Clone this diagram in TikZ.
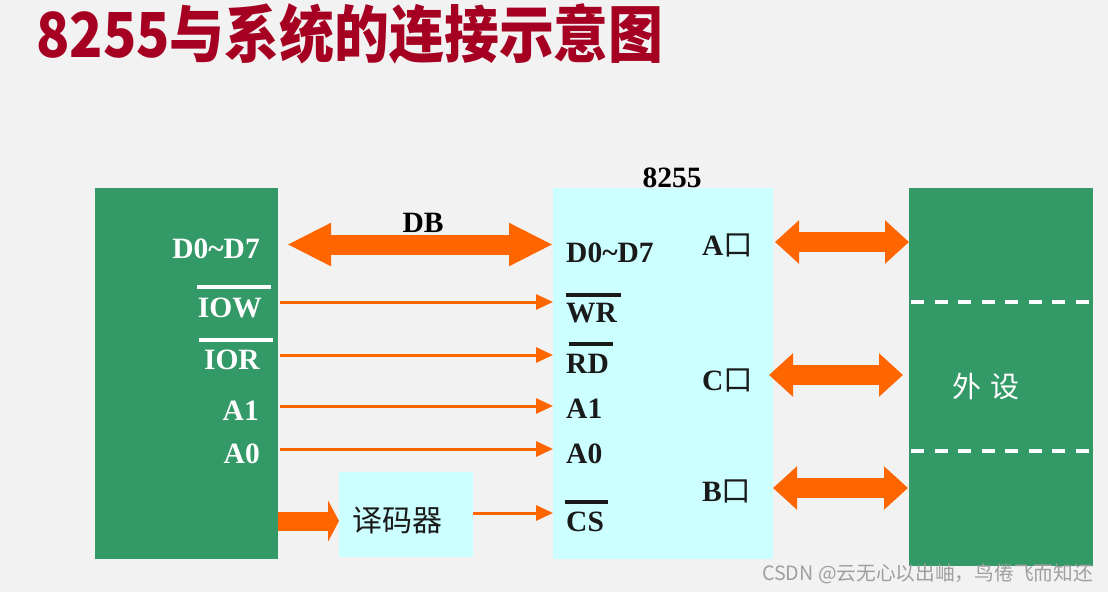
\documentclass[tikz,border=0pt]{standalone}
\usepackage{fontspec}
\setmainfont{Liberation Serif}
\newfontfamily\cjk{Noto Sans CJK SC}
\usetikzlibrary{arrows.meta}

\definecolor{pagegray}{HTML}{F2F2F2}
\definecolor{boxgreen}{HTML}{339966}
\definecolor{boxcyan}{HTML}{CCFFFF}
\definecolor{titlered}{HTML}{A50021}
\definecolor{busorange}{HTML}{FF6600}
\definecolor{inkdark}{HTML}{1A1A1A}

\begin{document}
\begin{tikzpicture}[x=1pt, y=-1pt,
  box/.style = {anchor=north west, inner sep=0pt, outer sep=0pt, minimum width=#1},
  sig/.style = {font=\fontsize{29.5}{29.5}\selectfont\bfseries, inner sep=0pt, text=#1},
  sig/.default = inkdark,
  cjklabel/.style = {font=\fontsize{#1}{#1}\selectfont\cjk, inner sep=0pt},
  thinline/.style = {draw=busorange, line width=3pt, -{Triangle[length=17pt,width=15pt]}},
  busline/.style = {draw=busorange, line width=20pt, {Triangle[length=24pt,width=42pt]}-{Triangle[length=24pt,width=42pt]}}]

\useasboundingbox (0,0) rectangle (1108,592);
\fill[pagegray] (0,0) rectangle (1108,592);

% Title
\node[anchor=base west, inner sep=0pt, text=titlered, xscale=.885, transform shape, font=\fontsize{62}{62}\selectfont\cjk\bfseries] (title) at (36,57) {8255与系统的连接示意图};

% Boxes
\node[box=183pt, minimum height=371pt, fill=boxgreen] (host) at (95,188) {};
\node[box=220pt, minimum height=371pt, fill=boxcyan] (chip) at (553,188) {};
\node[box=184pt, minimum height=378pt, fill=boxgreen] (periph) at (909,188) {};
\node[box=134pt, minimum height=85pt, fill=boxcyan] (decoder) at (339,472) {};

% Host labels
\node[sig=white, anchor=base east] (hostd) at (260,258) {D0\textasciitilde D7};
\node[sig=white, anchor=base east] (hostiow) at (262,317) {IOW};
\node[sig=white, anchor=base east] (hostior) at (260,369) {IOR};
\node[sig=white, anchor=base east] (hosta1) at (259,420) {A1};
\node[sig=white, anchor=base east] (hosta0) at (260,463) {A0};

% Chip labels
\node[sig, anchor=base, text=black] (chipname) at (672,187) {8255};
\node[sig, anchor=base, text=black] (dbname) at (423,232) {DB};
\node[sig, anchor=base west] (chipd) at (566,262) {D0\textasciitilde D7};
\node[sig, anchor=base west] (chipwr) at (566,322) {WR};
\node[sig, anchor=base west] (chiprd) at (566,373) {RD};
\node[sig, anchor=base west] (chipa1) at (566,418) {A1};
\node[sig, anchor=base west] (chipa0) at (566,463) {A0};
\node[sig, anchor=base west] (chipcs) at (566,531) {CS};
\node[sig, anchor=base west] (porta) at (702,255) {A{\cjk\mdseries 口}};
\node[sig, anchor=base west] (portc) at (702,390) {C{\cjk\mdseries 口}};
\node[sig, anchor=base west] (portb) at (702,501) {B{\cjk\mdseries 口}};

% Other labels
\node[cjklabel=30, anchor=base west, text=inkdark] (decname) at (352,531) {译码器};
\node[cjklabel=29, anchor=base west, text=white] (periphname) at (952,397) {外\,\,设};
\node[cjklabel=19.7, anchor=base east, text=gray!75] (mark) at (1093,580) {CSDN @云无心以出岫，鸟倦飞而知还};

% Bars over the active low signals
\foreach \xa/\xb/\y in {197/271/287, 199/273/340} {
  \draw[white, line width=3.5pt] (\xa,\y) -- (\xb,\y);
}
\foreach \xa/\xb/\y in {566/621/295, 569/613/344, 565/608/502} {
  \draw[inkdark, line width=3.5pt] (\xa,\y) -- (\xb,\y);
}

% Dashes
\foreach \y in {302,451} {
  \draw[white, line width=3.5pt, dash pattern=on 13pt off 10.5pt] (periph.west |- 0,\y) ++(2,0) -- (1090,\y);
}

% Signal lines
\foreach \y in {302,355,406,449} {
  \draw[thinline] ([xshift=2pt]host.east |- 0,\y) -- (chip.west |- 0,\y);
}
\draw[thinline] (decoder.east |- 0,513) -- (chip.west |- 0,513);

% Buses
\draw[draw=busorange, line width=20pt, {Triangle[length=44pt,width=40pt]}-{Triangle[length=44pt,width=40pt]}] ([xshift=9pt]host.east |- 0,244.5) -- (chip.west |- 0,244.5);
\draw[busline] ([xshift=2pt]chip.east |- 0,242) -- (periph.west |- 0,242);
\draw[busline] ([xshift=-4pt]chip.east |- 0,375) -- ([xshift=-6pt]periph.west |- 0,375);
\draw[busline] (chip.east |- 0,488) -- ([xshift=-1pt]periph.west |- 0,488);
\draw[draw=busorange, line width=19pt, -{Triangle[length=11pt,width=41pt]}] (host.east |- 0,521) -- (decoder.west |- 0,521);

\end{tikzpicture}
\end{document}
